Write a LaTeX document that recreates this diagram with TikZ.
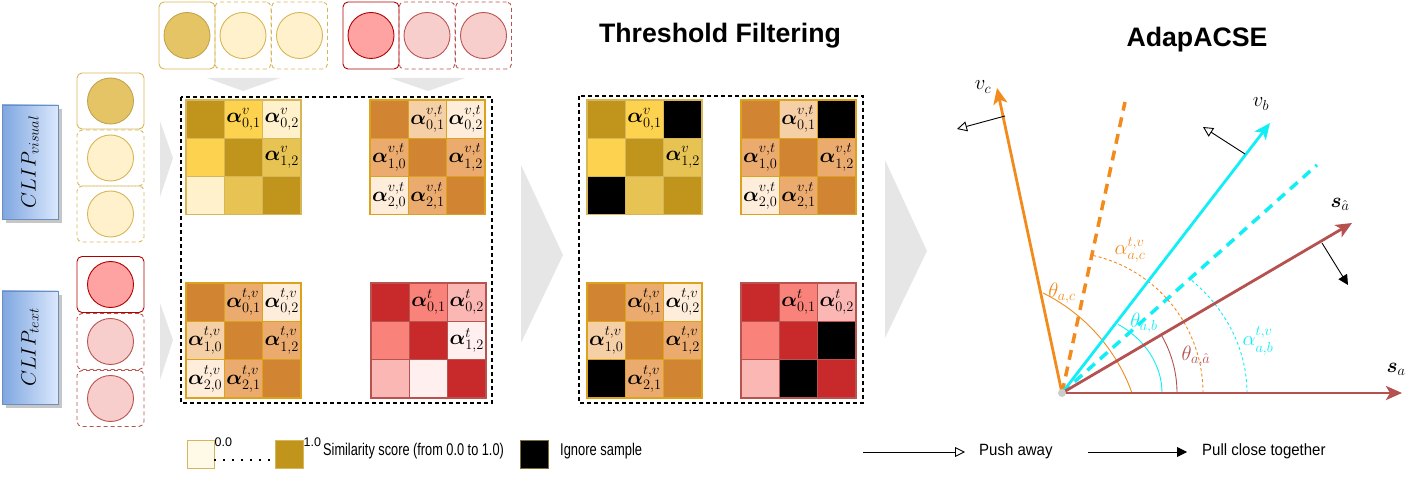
\documentclass[tikz,border=0pt]{standalone}
\usepackage[no-math]{fontspec}
\usepackage{amsmath}
\newfontfamily\arialf{Liberation Sans}
\usetikzlibrary{arrows.meta}
\newcommand{\balpha}{\boldsymbol{\alpha}}
\definecolor{vdark}{HTML}{C1951B}
\definecolor{vyel}{HTML}{FDD24F}
\definecolor{vmid}{HTML}{E6C352}
\definecolor{vpale}{HTML}{FFF1CB}
\definecolor{vbd}{HTML}{D6B656}
\definecolor{odark}{HTML}{D18533}
\definecolor{omid}{HTML}{EBAB6E}
\definecolor{olt}{HTML}{F5CFA6}
\definecolor{ovlt}{HTML}{FEEDDA}
\definecolor{obd}{HTML}{DDA21C}
\definecolor{rdark}{HTML}{C8292B}
\definecolor{rmid}{HTML}{F9827B}
\definecolor{rlt}{HTML}{FBB7B4}
\definecolor{rvlt}{HTML}{FFEFEF}
\definecolor{rbd}{HTML}{B85450}
\definecolor{cdark}{HTML}{E5C466}
\definecolor{cred}{HTML}{FFA2A2}
\definecolor{credbd}{HTML}{B20000}
\definecolor{cpink}{HTML}{F8CECC}
\definecolor{vecbr}{HTML}{B5514F}
\definecolor{veccy}{HTML}{12EEF5}
\definecolor{vecor}{HTML}{F28B1C}
\definecolor{clipL}{HTML}{7EA6E0}
\definecolor{clipR}{HTML}{DAE8FC}
\definecolor{clipbd}{HTML}{6C8EBF}
\definecolor{arrgray}{HTML}{E6E6E6}
\definecolor{lowsc}{HTML}{FFF9E8}
\tikzset{
  cell/.style={rectangle, minimum width=38.3pt, minimum height=38.3pt, inner sep=0pt, outer sep=0pt, line width=0.8pt, font=\fontsize{22}{24}\selectfont},
  tbox/.style={rectangle, rounded corners=5pt, minimum width=56pt, minimum height=67pt, line width=0.9pt},
  lbox/.style={rectangle, rounded corners=5pt, minimum width=67pt, minimum height=56pt, line width=0.9pt},
  dsh/.style={dash pattern=on 4pt off 3pt},
  emb/.style={circle, minimum size=46pt, inner sep=0pt, line width=0.9pt},
  clipbox/.style={rectangle, minimum width=56pt, minimum height=114pt, draw=clipbd, line width=0.8pt, left color=clipL, right color=clipR, inner sep=0pt, font=\fontsize{20}{22}\selectfont},
  vec/.style={line width=2.8pt, -{Stealth[length=16pt, width=14pt, inset=4pt]}},
  dvec/.style={line width=3.5pt, dash pattern=on 10pt off 7pt},
  thin arc/.style={line width=0.9pt},
  dash arc/.style={line width=0.9pt, dash pattern=on 3pt off 2.5pt},
  anglab/.style={font=\fontsize{20}{22}\selectfont, inner sep=0pt},
  push/.style={line width=0.9pt, -{Triangle[open, length=10pt, width=10pt]}},
  pull/.style={line width=0.9pt, -{Triangle[length=10pt, width=10pt]}},
  ttl/.style={font=\arialf\bfseries\fontsize{26.7}{30}\selectfont, inner sep=0pt},
  leg/.style={font=\arialf, inner sep=0pt, anchor=west},
}
\newcommand{\cellgrid}[5]{%
  \foreach \r/\c/\f/\l in {#5}{%
    \node[cell, draw=#4, fill=\f] (#1-\r-\c) at ({#2+19.15+38.3*\c},{#3+19.15+38.3*\r}) {\l};
  }
  \draw[#4, line width=1.2pt] (#2,#3) rectangle ({#2+114.9},{#3+114.9});
}
\begin{document}
\begin{tikzpicture}[x=1pt,y=-1pt]
\useasboundingbox (0,0) rectangle (1409,481);
% gray flow arrows
\fill[arrgray] (160,121) -- (173,158) -- (160,197) -- cycle;
\fill[arrgray] (160,303) -- (173,340) -- (160,380) -- cycle;
\fill[arrgray] (207,78) -- (280,78) -- (243,91) -- cycle;
\fill[arrgray] (390,78) -- (465,78) -- (428,91) -- cycle;
\fill[arrgray] (521,165) -- (563,255) -- (521,343) -- cycle;
\fill[arrgray] (885,160) -- (927,251) -- (885,338) -- cycle;
% CLIP encoders
\fill[gray!45] (6,109) rectangle (62,223);
\fill[gray!45] (6,295) rectangle (62,408);
\node[clipbox] (clipv) at (30,162) {\rotatebox{90}{$CLIP_{visual}$}};
\node[clipbox, minimum height=113pt] (clipt) at (30,347.5) {\rotatebox{90}{$CLIP_{text}$}};
% left column embeddings
\node[lbox, draw=vbd] (lv1) at (110.5,101) {};
\node[lbox, draw=vbd, dsh] (lv2) at (110.5,158) {};
\node[lbox, draw=vbd, dsh] (lv3) at (110.5,214) {};
\node[emb, fill=cdark, draw=vbd!90!black] (lc1) at (lv1) {};
\node[emb, fill=vpale, draw=vbd] (lc2) at (lv2) {};
\node[emb, fill=vpale, draw=vbd] (lc3) at (lv3) {};
\node[lbox, draw=credbd] (lt1) at (110.5,284.5) {};
\node[lbox, draw=rbd, dsh] (lt2) at (110.5,341.5) {};
\node[lbox, draw=rbd, dsh] (lt3) at (110.5,398.5) {};
\node[emb, fill=cred, draw=credbd] (ld1) at (lt1) {};
\node[emb, fill=cpink, draw=rbd] (ld2) at (lt2) {};
\node[emb, fill=cpink, draw=rbd] (ld3) at (lt3) {};
% top row embeddings
\node[tbox, draw=vbd] (tv1) at (187,35.5) {};
\node[tbox, draw=vbd, dsh] (tv2) at (243,35.5) {};
\node[tbox, draw=vbd, dsh] (tv3) at (299.5,35.5) {};
\node[emb, fill=cdark, draw=vbd!90!black] (tc1) at (tv1) {};
\node[emb, fill=vpale, draw=vbd] (tc2) at (tv2) {};
\node[emb, fill=vpale, draw=vbd] (tc3) at (tv3) {};
\node[tbox, draw=credbd] (tt1) at (371,35.5) {};
\node[tbox, draw=rbd, dsh] (tt2) at (427,35.5) {};
\node[tbox, draw=rbd, dsh] (tt3) at (483.5,35.5) {};
\node[emb, fill=cred, draw=credbd] (td1) at (tt1) {};
\node[emb, fill=cpink, draw=rbd] (td2) at (tt2) {};
\node[emb, fill=cpink, draw=rbd] (td3) at (tt3) {};
% dashed frames
\draw[fill=white, line width=1.3pt, dsh] (181,97) rectangle (492,403);
\draw[fill=white, line width=1.3pt, dsh] (579,96) rectangle (863,403);
% similarity matrices
\cellgrid{ma}{186}{100}{vbd}{0/0/vdark/{}, 0/1/vyel/{$\balpha^{v}_{0,1}$}, 0/2/vpale/{$\balpha^{v}_{0,2}$}, 1/0/vyel/{}, 1/1/vdark/{}, 1/2/vmid/{$\balpha^{v}_{1,2}$}, 2/0/vpale/{}, 2/1/vmid/{}, 2/2/vdark/{}}
\cellgrid{mb}{370}{100}{obd}{0/0/odark/{}, 0/1/olt/{$\balpha^{v,t}_{0,1}$}, 0/2/ovlt/{$\balpha^{v,t}_{0,2}$}, 1/0/omid/{$\balpha^{v,t}_{1,0}$}, 1/1/odark/{}, 1/2/omid/{$\balpha^{v,t}_{1,2}$}, 2/0/ovlt/{$\balpha^{v,t}_{2,0}$}, 2/1/omid/{$\balpha^{v,t}_{2,1}$}, 2/2/odark/{}}
\cellgrid{mc}{186}{283}{obd}{0/0/odark/{}, 0/1/omid/{$\balpha^{t,v}_{0,1}$}, 0/2/ovlt/{$\balpha^{t,v}_{0,2}$}, 1/0/olt/{$\balpha^{t,v}_{1,0}$}, 1/1/odark/{}, 1/2/omid/{$\balpha^{t,v}_{1,2}$}, 2/0/ovlt/{$\balpha^{t,v}_{2,0}$}, 2/1/omid/{$\balpha^{t,v}_{2,1}$}, 2/2/odark/{}}
\cellgrid{md}{371}{283}{rbd}{0/0/rdark/{}, 0/1/rmid/{$\balpha^{t}_{0,1}$}, 0/2/rlt/{$\balpha^{t}_{0,2}$}, 1/0/rmid/{}, 1/1/rdark/{}, 1/2/rvlt/{$\balpha^{t}_{1,2}$}, 2/0/rlt/{}, 2/1/rvlt/{}, 2/2/rdark/{}}
% filtered matrices
\cellgrid{fa}{587}{100}{vbd}{0/0/vdark/{}, 0/1/vyel/{$\balpha^{v}_{0,1}$}, 0/2/black/{}, 1/0/vyel/{}, 1/1/vdark/{}, 1/2/vmid/{$\balpha^{v}_{1,2}$}, 2/0/black/{}, 2/1/vmid/{}, 2/2/vdark/{}}
\cellgrid{fb}{741}{100}{obd}{0/0/odark/{}, 0/1/olt/{$\balpha^{v,t}_{0,1}$}, 0/2/black/{}, 1/0/omid/{$\balpha^{v,t}_{1,0}$}, 1/1/odark/{}, 1/2/omid/{$\balpha^{v,t}_{1,2}$}, 2/0/ovlt/{$\balpha^{v,t}_{2,0}$}, 2/1/omid/{$\balpha^{v,t}_{2,1}$}, 2/2/odark/{}}
\cellgrid{fc}{587}{283}{obd}{0/0/odark/{}, 0/1/omid/{$\balpha^{t,v}_{0,1}$}, 0/2/ovlt/{$\balpha^{t,v}_{0,2}$}, 1/0/olt/{$\balpha^{t,v}_{1,0}$}, 1/1/odark/{}, 1/2/omid/{$\balpha^{t,v}_{1,2}$}, 2/0/black/{}, 2/1/omid/{$\balpha^{t,v}_{2,1}$}, 2/2/odark/{}}
\cellgrid{fd}{741}{283}{rbd}{0/0/rdark/{}, 0/1/rmid/{$\balpha^{t}_{0,1}$}, 0/2/rlt/{$\balpha^{t}_{0,2}$}, 1/0/rmid/{}, 1/1/rdark/{}, 1/2/black/{}, 2/0/rlt/{}, 2/1/black/{}, 2/2/rdark/{}}
% titles
\node[ttl] (tf) at (720,36) {Threshold Filtering};
\node[ttl] (ta) at (1197,40) {AdapACSE};
% AdapACSE
\begin{scope}[shift={(1062pt,-393pt)}, x=1pt, y=1pt]
\coordinate (O) at (0,0);
\coordinate (sa) at (340,0);
\coordinate (sh) at (290,170);
\coordinate (vb) at (208,270);
\coordinate (vc) at (-65,305);
\coordinate (od) at (63,291);
\coordinate (cd) at (255,228);
\draw[vecor, dvec] (O) -- (od);
\draw[veccy, dvec] (O) -- (cd);
\draw[vecor, thin arc] (70,0) arc[start angle=19.7, end angle=63.6, radius=179];
\draw[veccy, thin arc] (100,0) arc[start angle=0, end angle=55.9, x radius=100, y radius=83];
\draw[vecbr, thin arc] (115,0) arc[start angle=0, end angle=30.5, radius=115];
\draw[vecor, dash arc] (141,0) arc[start angle=0, end angle=77.8, radius=141];
\draw[veccy, dash arc] (185,0) arc[start angle=0, end angle=46.6, x radius=185, y radius=158];
\draw[vecor, vec] (O) -- (vc);
\draw[veccy, vec] (O) -- (vb);
\draw[vecbr, vec] (O) -- (sh);
\draw[vecbr, vec] (O) -- (sa);
\node[circle, fill=gray!40, minimum size=8pt, inner sep=0pt] (dot) at (O) {};
\coordinate (p1a) at (-57,277); \coordinate (p1b) at (-105,264);
\coordinate (p2a) at (183,239); \coordinate (p2b) at (141,266);
\coordinate (p3a) at (260,150); \coordinate (p3b) at (286,108);
\draw[push] (p1a) -- (p1b);
\draw[push] (p2a) -- (p2b);
\draw[pull] (p3a) -- (p3b);
\node[anglab] (lvc) at (-79,306) {$v_c$};
\node[anglab] (lvb) at (199,289) {$v_b$};
\node[anglab] (lsh) at (278,189) {$\boldsymbol{s}_{\hat a}$};
\node[anglab] (lsa) at (334,24) {$\boldsymbol{s}_a$};
\node[anglab, text=vecor] (lac) at (0,100) {$\theta_{a,c}$};
\node[anglab, text=veccy] (lab) at (82,70) {$\theta_{a,b}$};
\node[anglab, text=vecbr] (lah) at (134,37) {$\theta_{a,\hat a}$};
\node[anglab, text=vecor] (lalc) at (68,143) {$\alpha^{t,v}_{a,c}$};
\node[anglab, text=veccy] (lalb) at (196,52) {$\alpha^{t,v}_{a,b}$};
\end{scope}
% legend
\node[rectangle, minimum width=27pt, minimum height=28pt, inner sep=0pt, fill=lowsc, draw=vbd, line width=0.8pt] (lg0) at (200.5,454) {};
\node[rectangle, minimum width=28pt, minimum height=28pt, inner sep=0pt, fill=vdark, draw=vbd, line width=0.8pt] (lg1) at (289,454) {};
\draw[line width=2pt, dash pattern=on 2pt off 7pt] (lg0.east |- 0,460) -- (lg1.west |- 0,460);
\node[leg, anchor=north west, font=\arialf\fontsize{12.5}{14}\selectfont] (t0) at ([yshift=2pt]lg0.north east) {0.0};
\node[leg, anchor=north west, font=\arialf\fontsize{12.5}{14}\selectfont] (t1) at ([yshift=2pt]lg1.north east) {1.0};
\node[leg] (tsim) at (323,451) {\scalebox{0.75}[1]{\fontsize{17}{19}\selectfont Similarity score (from 0.0 to 1.0)}};
\node[rectangle, minimum width=28pt, minimum height=28pt, inner sep=0pt, fill=black, draw=vbd!60!black, line width=0.8pt] (lgb) at (534,454) {};
\node[leg] (tign) at (560,451) {\scalebox{0.76}[1]{\fontsize{17}{19}\selectfont Ignore sample}};
\coordinate (lp1) at (863,452); \coordinate (lp2) at (965,452);
\draw[push] (lp1) -- (lp2);
\node[leg] (tpush) at (979,451) {\scalebox{0.92}[1]{\fontsize{16.3}{18}\selectfont Push away}};
\coordinate (lq1) at (1088,452); \coordinate (lq2) at (1187,452);
\draw[pull] (lq1) -- (lq2);
\node[leg] (tpull) at (1202,451) {\scalebox{0.92}[1]{\fontsize{16.3}{18}\selectfont Pull close together}};
\end{tikzpicture}
\end{document}
